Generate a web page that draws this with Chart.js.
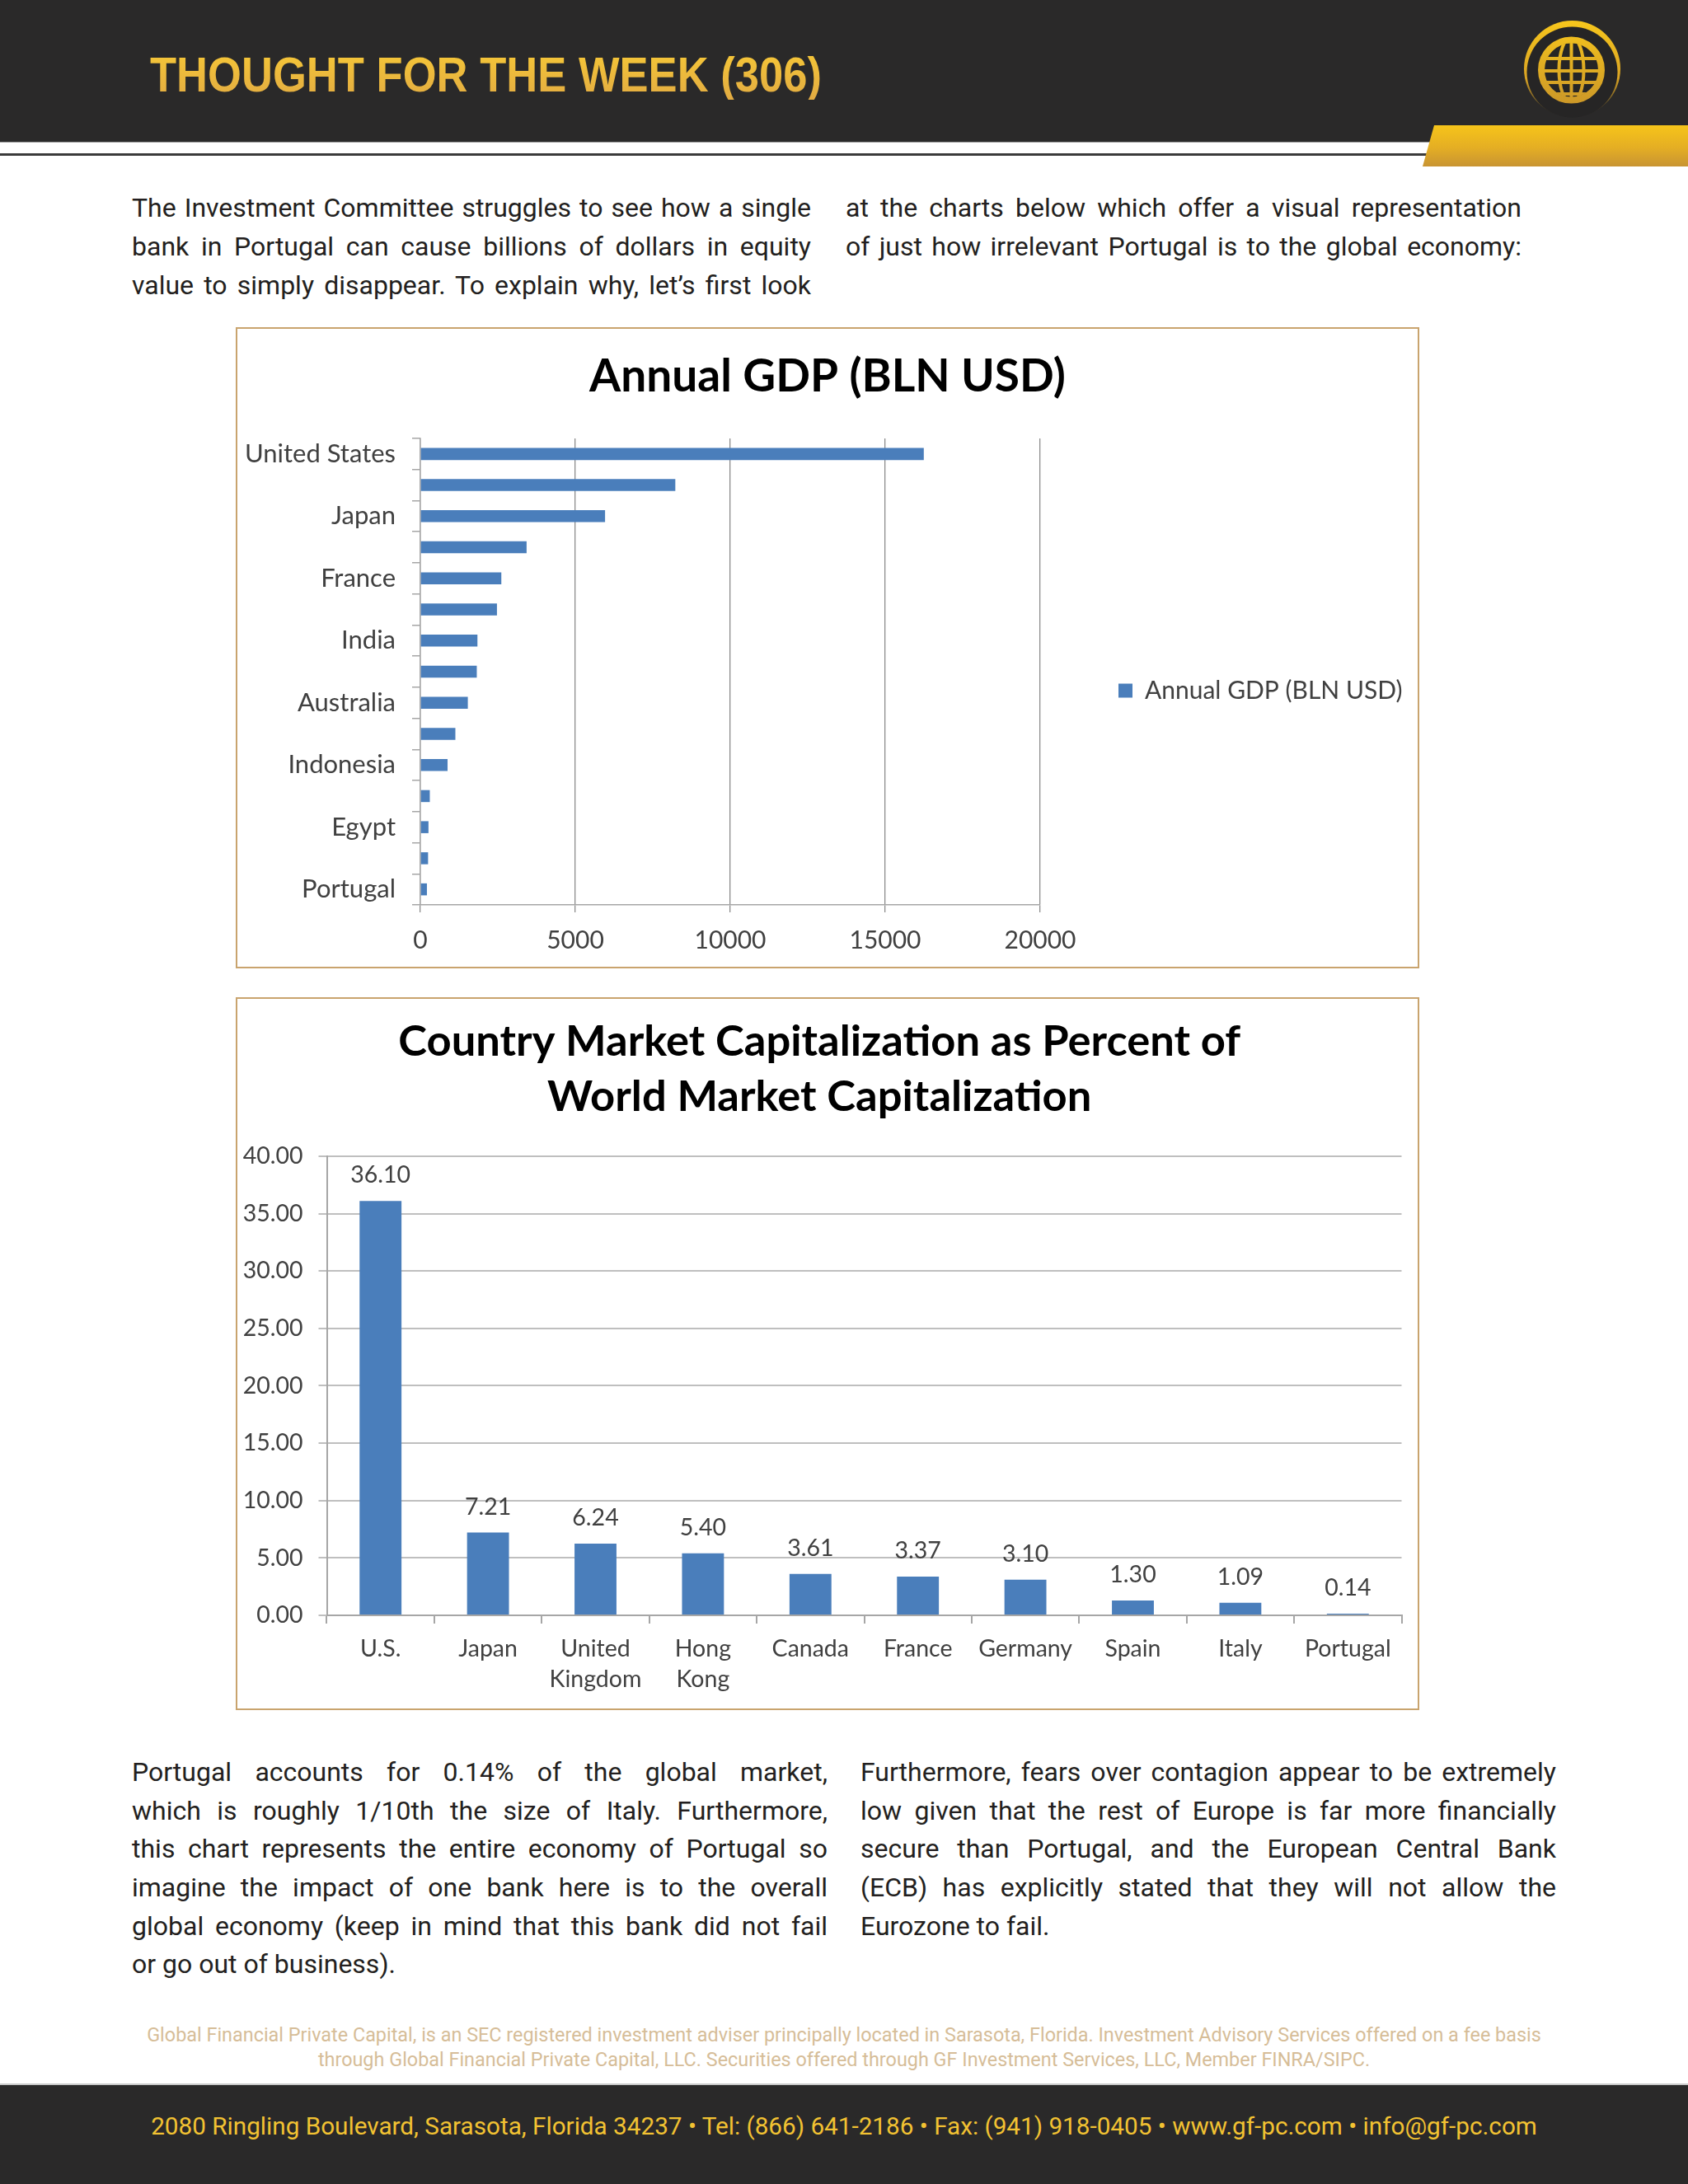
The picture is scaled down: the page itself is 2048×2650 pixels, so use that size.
<!DOCTYPE html>
<html>
<head>
<meta charset="utf-8">
<script src="https://cdn.jsdelivr.net/npm/chart.js@4.4.1/dist/chart.umd.min.js"></script>
<style>
  body { margin: 0; width: 2048px; height: 2650px; position: relative; background: #fff; overflow: hidden; }
  #header { position: absolute; left: 0; top: 0; width: 2048px; height: 172px; background: #2a2929; }
  #greyLine { position: absolute; left: 0; top: 172px; width: 2048px; height: 1px; background: #9a9a9a; }
  #darkLine { position: absolute; left: 0; top: 186px; width: 1731px; height: 3px; background: #3a3a3a; }
  #tab { position: absolute; left: 1726px; top: 152px; width: 322px; height: 50px;
         background: linear-gradient(180deg, #f6c41a 0%, #e4ae24 55%, #c89433 100%);
         clip-path: polygon(14px 0, 322px 0, 322px 50px, 0 50px); }
  #headTitle { position: absolute; left: 182px; top: 61px; height: 60px; line-height: 60px; white-space: nowrap;
               font-family: 'Liberation Sans', Arial, sans-serif; font-weight: bold; font-size: 60px;
               background: linear-gradient(180deg, #f6c737 0%, #e2ab42 100%);
               -webkit-background-clip: text; background-clip: text; color: transparent;
               transform-origin: 0 0; }
  .col { position: absolute; font-family: Roboto, 'Liberation Sans', sans-serif; font-size: 32px; color: #231f20; }
  .col div { white-space: nowrap; }
  .top div { height: 47px; line-height: 47px; }
  .bot div { height: 46.7px; line-height: 46.7px; }
  .chartbox { position: absolute; left: 286px; width: 1432px; border: 2px solid #c9a46e; background: #fff; }
  .chartbox canvas { display: block; }
  #disclaimer { position: absolute; left: 0; top: 2454px; width: 2048px; text-align: center;
                font-family: Roboto, 'Liberation Sans', sans-serif; font-size: 23.4px; line-height: 30px; color: #d6bd98; }
  #footer { position: absolute; left: 0; top: 2528px; width: 2048px; height: 122px; background: #2a2929;
            border-top: 2px solid #c8c8c8; }
  #footText { position: absolute; left: 0; top: 2560px; width: 2048px; text-align: center;
              font-family: Roboto, 'Liberation Sans', sans-serif; font-size: 29.7px; line-height: 40px; color: #f2c232; }
</style>
</head>
<body>

<div id="header"></div>
<div id="greyLine"></div>
<div id="darkLine"></div>
<div id="tab"></div>
<div id="headTitle">THOUGHT FOR THE WEEK (306)</div>

<svg style="position:absolute;left:1840px;top:15px" width="140" height="140" viewBox="1840 15 140 140">
  <defs>
    <linearGradient id="gold" gradientUnits="userSpaceOnUse" x1="0" y1="25" x2="0" y2="145">
      <stop offset="0" stop-color="#f8c71c"/>
      <stop offset="1" stop-color="#c48f2a"/>
    </linearGradient>
    <linearGradient id="ringFade" gradientUnits="userSpaceOnUse" x1="0" y1="25" x2="0" y2="142">
      <stop offset="0" stop-color="#f8c71c"/>
      <stop offset="0.6" stop-color="#d9a324"/>
      <stop offset="1" stop-color="#2a2929"/>
    </linearGradient>
    <clipPath id="globeClip"><circle cx="1906.5" cy="85" r="33"/></clipPath>
  </defs>
  <circle cx="1907.5" cy="83.5" r="58.5" fill="url(#ringFade)"/>
  <circle cx="1907.5" cy="87.5" r="55" fill="#262525"/>
  <circle cx="1906.5" cy="85" r="36.5" fill="none" stroke="url(#gold)" stroke-width="8"/>
  <g clip-path="url(#globeClip)" stroke="url(#gold)" stroke-width="4" fill="none">
    <line x1="1906.5" y1="45" x2="1906.5" y2="125"/>
    <ellipse cx="1906.5" cy="85" rx="15" ry="40"/>
    <line x1="1860" y1="71" x2="1950" y2="71"/>
    <line x1="1860" y1="86" x2="1950" y2="86"/>
    <line x1="1860" y1="100" x2="1950" y2="100"/>
    <line x1="1860" y1="114" x2="1950" y2="114"/>
  </g>
</svg>

<div class="col top" style="left:160px;top:229px;width:824px">
  <div class="jl"><span>The Investment Committee struggles to see how a single</span></div>
  <div class="jl"><span>bank in Portugal can cause billions of dollars in equity</span></div>
  <div class="jl"><span>value to simply disappear. To explain why, let’s first look</span></div>
</div>
<div class="col top" style="left:1026px;top:229px;width:820px">
  <div class="jl"><span>at the charts below which offer a visual representation</span></div>
  <div class="jl"><span>of just how irrelevant Portugal is to the global economy:</span></div>
</div>

<div class="chartbox" style="top:397px;height:774px"><canvas id="gdpChart" width="1432" height="774"></canvas></div>
<div class="chartbox" style="top:1210px;height:861px"><canvas id="capChart" width="1432" height="861"></canvas></div>

<div class="col bot" style="left:160px;top:2127px;width:844px">
  <div class="jl"><span>Portugal accounts for 0.14% of the global market,</span></div>
  <div class="jl"><span>which is roughly 1/10th the size of Italy. Furthermore,</span></div>
  <div class="jl"><span>this chart represents the entire economy of Portugal so</span></div>
  <div class="jl"><span>imagine the impact of one bank here is to the overall</span></div>
  <div class="jl"><span>global economy (keep in mind that this bank did not fail</span></div>
  <div><span>or go out of business).</span></div>
</div>
<div class="col bot" style="left:1044px;top:2127px;width:844px">
  <div class="jl"><span>Furthermore, fears over contagion appear to be extremely</span></div>
  <div class="jl"><span>low given that the rest of Europe is far more financially</span></div>
  <div class="jl"><span>secure than Portugal, and the European Central Bank</span></div>
  <div class="jl"><span>(ECB) has explicitly stated that they will not allow the</span></div>
  <div><span>Eurozone to fail.</span></div>
</div>

<div id="disclaimer">Global Financial Private Capital, is an SEC registered investment adviser principally located in Sarasota, Florida. Investment Advisory Services offered on a fee basis<br>through Global Financial Private Capital, LLC. Securities offered through GF Investment Services, LLC, Member FINRA/SIPC.</div>
<div id="footer"></div>
<div id="footText">2080 Ringling Boulevard, Sarasota, Florida 34237 • Tel: (866) 641-2186 • Fax: (941) 918-0405 • www.gf-pc.com • info@gf-pc.com</div>

<script>
// chart 1 - annual GDP, billions USD (every other country label is hidden like the original)
const gdpCountries = ['United States', 'China', 'Japan', 'Germany', 'France', 'United Kingdom', 'India', 'Canada',
                      'Australia', 'South Korea', 'Indonesia', 'Malaysia', 'Egypt', 'Greece', 'Portugal'];
const gdpValues = [16245, 8227, 5960, 3428, 2613, 2472, 1842, 1821, 1532, 1130, 878, 305, 262, 249, 212];
const gdpSeriesName = 'Annual GDP (BLN USD)';
const gdpAxisMax = 20000;
const gdpAxisStep = 5000;

// chart 2 - share of world market cap, %
const capCountries = ['U.S.', 'Japan', ['United', 'Kingdom'], ['Hong', 'Kong'], 'Canada', 'France', 'Germany', 'Spain', 'Italy', 'Portugal'];
const capValues = [36.10, 7.21, 6.24, 5.40, 3.61, 3.37, 3.10, 1.30, 1.09, 0.14];
const capTitle = ['Country Market Capitalization as Percent of', 'World Market Capitalization'];
const capAxisMax = 40;
const capAxisStep = 5;

const barBlue = '#4a7ebb';
const axisGrey = '#a6a6a6';
const textGrey = '#404040';

// keep the legend a fixed width so the plot ends where the original does
function fixedLegendWidth(w) {
    return {
        id: 'fixedLegendWidth',
        beforeLayout(chart) {
            const lg = chart.legend;
            if (lg && !lg._fixed) {
                const fit = lg.fit;
                lg.fit = function () { fit.call(this); this.width = w; };
                lg._fixed = true;
            }
        }
    };
}

const valueLabels = {
    id: 'valueLabels',
    afterDatasetsDraw(chart) {
        const ctx = chart.ctx;
        const bars = chart.getDatasetMeta(0).data;
        ctx.save();
        ctx.font = '28.5px Lato';
        ctx.fillStyle = textGrey;
        ctx.textAlign = 'center';
        ctx.textBaseline = 'alphabetic';
        bars.forEach((bar, i) => {
            ctx.fillText(capValues[i].toFixed(2), bar.x, bar.y - 22);
        });
        ctx.restore();
    }
};

function drawCharts() {
    new Chart(document.getElementById('gdpChart'), {
        type: 'bar',
        data: {
            labels: gdpCountries,
            datasets: [{
                label: gdpSeriesName,
                data: gdpValues,
                backgroundColor: barBlue,
                barPercentage: 0.385,
                categoryPercentage: 1
            }]
        },
        options: {
            indexAxis: 'y',
            responsive: false,
            animation: false,
            layout: { padding: { left: 0, right: 0, top: 0, bottom: 14 } },
            plugins: {
                tooltip: { enabled: false },
                title: {
                    display: true,
                    text: gdpSeriesName,
                    color: '#000',
                    font: { family: 'Lato', size: 55, weight: 'bold', lineHeight: 1.2 },
                    padding: { top: 25, bottom: 42 }
                },
                legend: {
                    position: 'right',
                    fullSize: false,
                    title: { display: true, text: '', font: { size: 10, lineHeight: 1 }, padding: { top: 18, bottom: 18 } },
                    labels: {
                        boxWidth: 17,
                        boxHeight: 17,
                        padding: 95,
                        color: textGrey,
                        font: { family: 'Lato', size: 30 }
                    }
                }
            },
            scales: {
                x: {
                    min: 0,
                    max: gdpAxisMax,
                    ticks: {
                        stepSize: gdpAxisStep,
                        padding: 16,
                        color: textGrey,
                        font: { family: 'Lato', size: 30, lineHeight: 1.2 },
                        callback: v => String(v)
                    },
                    grid: { color: '#8c8c8c', lineWidth: 1.3, tickLength: 9 },
                    border: { color: axisGrey, width: 1.5 },
                    afterFit: s => { s.height = 61; }
                },
                y: {
                    ticks: {
                        autoSkip: false,
                        padding: 20,
                        color: textGrey,
                        font: { family: 'Lato', size: 31 },
                        callback: function (v, i) { return i % 2 === 0 ? this.getLabelForValue(v) : ''; }
                    },
                    grid: { offset: true, drawOnChartArea: false, tickLength: 10, color: axisGrey, lineWidth: 1.5 },
                    border: { color: axisGrey, width: 1.5 },
                    afterFit: s => { s.width = 222; }
                }
            }
        },
        plugins: [fixedLegendWidth(458)]
    });

    new Chart(document.getElementById('capChart'), {
        type: 'bar',
        data: {
            labels: capCountries,
            datasets: [{
                data: capValues,
                backgroundColor: barBlue,
                barPercentage: 0.39,
                categoryPercentage: 1
            }]
        },
        options: {
            responsive: false,
            animation: false,
            layout: { padding: { left: 0, right: 19.5, top: 0, bottom: 17 } },
            plugins: {
                tooltip: { enabled: false },
                legend: { display: false },
                title: {
                    display: true,
                    text: capTitle,
                    color: '#000',
                    font: { family: 'Lato', size: 52.5, weight: 'bold', lineHeight: 1.276 },
                    padding: { top: 18.5, bottom: 38.5 }
                }
            },
            scales: {
                x: {
                    ticks: {
                        autoSkip: false,
                        maxRotation: 0,
                        padding: 12,
                        color: textGrey,
                        font: { family: 'Lato', size: 28.5, lineHeight: 1.298 }
                    },
                    grid: { offset: true, drawOnChartArea: false, tickLength: 10, color: axisGrey, lineWidth: 2 },
                    border: { color: axisGrey, width: 2 },
                    afterFit: s => { s.height = 96; }
                },
                y: {
                    min: 0,
                    max: capAxisMax,
                    ticks: {
                        stepSize: capAxisStep,
                        padding: 19,
                        color: textGrey,
                        font: { family: 'Lato', size: 28.5 },
                        callback: v => v.toFixed(2)
                    },
                    grid: { color: '#bfbfbf', lineWidth: 2, tickLength: 10 },
                    border: { color: axisGrey, width: 2 },
                    afterFit: s => { s.width = 108.5; }
                }
            }
        },
        plugins: [valueLabels]
    });
}

function layoutText() {
    // stretch each full line to the column edge with word spacing
    document.querySelectorAll('.jl').forEach(line => {
        const span = line.firstElementChild;
        const target = line.clientWidth;
        const natural = span.getBoundingClientRect().width;
        const gaps = (span.textContent.match(/ /g) || []).length;
        if (gaps) span.style.wordSpacing = ((target - natural) / gaps) + 'px';
    });
    const t = document.getElementById('headTitle');
    t.style.transform = 'scaleX(' + (815 / t.getBoundingClientRect().width) + ')';
}

document.fonts.ready.then(() => {
    layoutText();
    drawCharts();
});
</script>
</body>
</html>
